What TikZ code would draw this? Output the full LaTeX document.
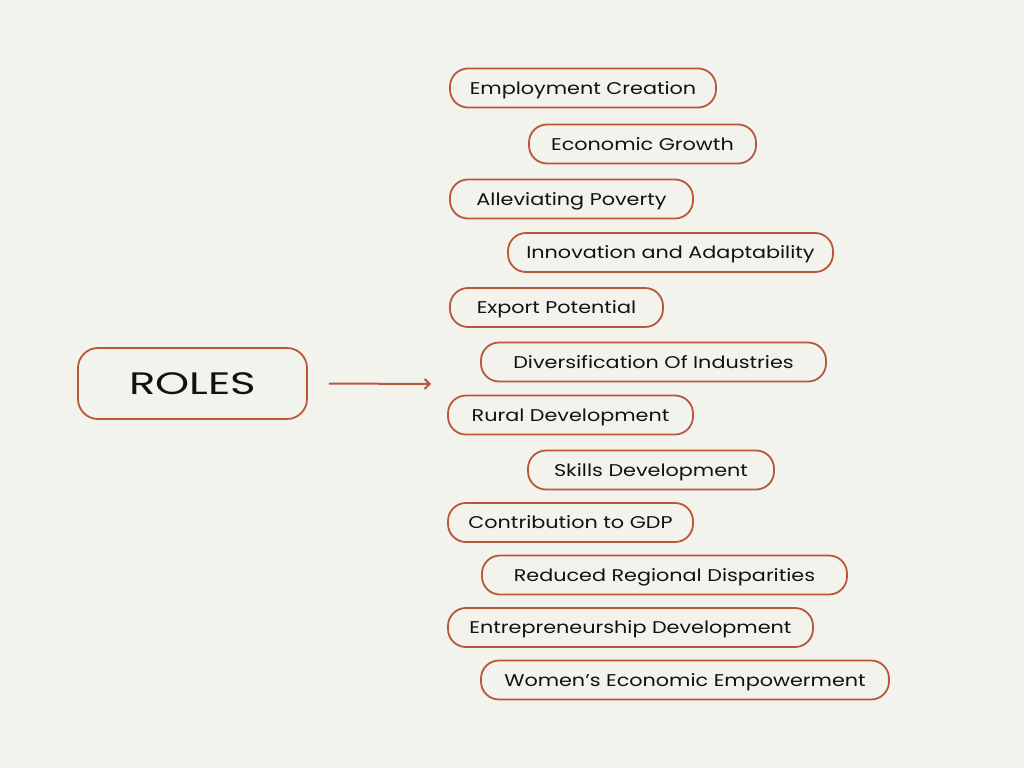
\documentclass[tikz,border=0pt]{standalone}
\usepackage{fontspec}
\setmainfont{Poppins}
\newfontfamily\pillfont[FakeStretch=1.22]{Poppins}
\newfontfamily\rolesfont[FakeStretch=1.4]{Poppins}
\definecolor{bg}{HTML}{F3F3EE}
\definecolor{edge}{HTML}{B9573D}
\definecolor{ink}{HTML}{111111}
\usetikzlibrary{arrows.meta}
\tikzset{
  pill/.style={draw=edge, line width=1.8pt, rounded corners=18pt, fill=bg,
    minimum height=39pt, inner sep=0pt, text height=15pt, text depth=3pt,
    text=ink, font=\pillfont\fontsize{17}{20}\selectfont},
  rolesbox/.style={draw=edge, line width=1.8pt, rounded corners=20pt, fill=bg,
    minimum width=229pt, minimum height=71pt, inner sep=0pt, text height=22pt, text depth=0pt,
    text=ink, font=\rolesfont\fontsize{31}{36}\selectfont},
  link/.style={draw=edge, line width=2pt, -{Straight Barb[length=5pt,width=10pt]}}
}
\begin{document}
\begin{tikzpicture}[x=1pt,y=-1pt]
\fill[bg] (0,0) rectangle (1024,768);
\useasboundingbox (0,0) rectangle (1024,768);
\node[rolesbox] (roles) at (192.5,383.5) {ROLES};
\coordinate (tip) at (431,384);
\draw[link] (roles.east) ++(21,0) coordinate (tail) (tail) -- (tip);
\node[pill, minimum width=266pt] (n1) at (583,88) {Employment Creation};
\node[pill, minimum width=227pt] (n2) at (642.5,144) {Economic Growth};
\node[pill, minimum width=243pt] (n3) at (571.5,199) {Alleviating Poverty};
\node[pill, minimum width=325pt] (n4) at (670.5,252.5) {Innovation and Adaptability};
\node[pill, minimum width=213pt] (n5) at (556.5,307.5) {Export Potential};
\node[pill, minimum width=345pt] (n6) at (653.5,362) {Diversification Of Industries};
\node[pill, minimum width=245pt] (n7) at (570.5,415) {Rural Development};
\node[pill, minimum width=246pt] (n8) at (651,470) {Skills Development};
\node[pill, minimum width=245pt] (n9) at (570.5,522.5) {Contribution to GDP};
\node[pill, minimum width=365pt] (n10) at (664.5,575) {Reduced Regional Disparities};
\node[pill, minimum width=365pt] (n11) at (630.5,627.5) {Entrepreneurship Development};
\node[pill, minimum width=408pt] (n12) at (685,680) {Women’s Economic Empowerment};
\end{tikzpicture}
\end{document}
